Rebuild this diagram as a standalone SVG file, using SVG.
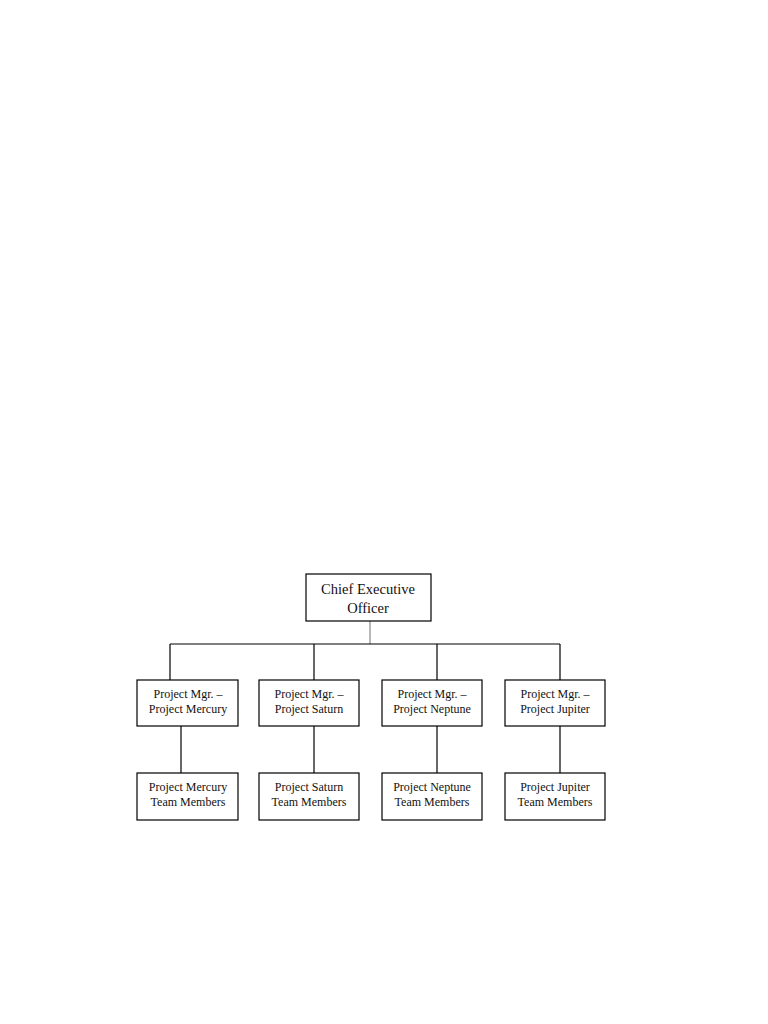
<svg xmlns="http://www.w3.org/2000/svg" width="768" height="1024" viewBox="0 0 768 1024">
<style>
rect{fill:#fff;stroke:#000;stroke-width:1.2}
text{font-family:"Liberation Serif",serif;font-size:12px;text-anchor:middle;fill:#111}
.big{font-size:14.5px}
#connectors line{stroke:#000;stroke-width:1.2}
</style>
<rect x="0" y="0" width="768" height="1024" style="stroke:none"/>
<g id="connectors">
<line x1="370" y1="621" x2="370" y2="644" style="stroke:#888"/>
<line x1="170" y1="644" x2="560" y2="644"/>
<line x1="170" y1="644" x2="170" y2="680"/>
<line x1="314" y1="644" x2="314" y2="680"/>
<line x1="437" y1="644" x2="437" y2="680"/>
<line x1="560" y1="644" x2="560" y2="680"/>
<line x1="181" y1="726" x2="181" y2="773"/>
<line x1="314" y1="726" x2="314" y2="773"/>
<line x1="437" y1="726" x2="437" y2="773"/>
<line x1="560" y1="726" x2="560" y2="773"/>
</g>
<g id="ceo"><rect x="306" y="574" width="125" height="47"/><text class="big" x="368" y="594">Chief Executive</text><text class="big" x="368" y="613">Officer</text></g>
<g id="pm1"><rect x="137" y="680" width="101" height="46"/><text x="188" y="698">Project Mgr. –</text><text x="188" y="713">Project Mercury</text></g>
<g id="pm2"><rect x="259" y="680" width="100" height="46"/><text x="309" y="698">Project Mgr. –</text><text x="309" y="713">Project Saturn</text></g>
<g id="pm3"><rect x="382" y="680" width="100" height="46"/><text x="432" y="698">Project Mgr. –</text><text x="432" y="713">Project Neptune</text></g>
<g id="pm4"><rect x="505" y="680" width="100" height="46"/><text x="555" y="698">Project Mgr. –</text><text x="555" y="713">Project Jupiter</text></g>
<g id="tm1"><rect x="137" y="773" width="101" height="47"/><text x="188" y="791">Project Mercury</text><text x="188" y="806">Team Members</text></g>
<g id="tm2"><rect x="259" y="773" width="100" height="47"/><text x="309" y="791">Project Saturn</text><text x="309" y="806">Team Members</text></g>
<g id="tm3"><rect x="382" y="773" width="100" height="47"/><text x="432" y="791">Project Neptune</text><text x="432" y="806">Team Members</text></g>
<g id="tm4"><rect x="505" y="773" width="100" height="47"/><text x="555" y="791">Project Jupiter</text><text x="555" y="806">Team Members</text></g>
</svg>
